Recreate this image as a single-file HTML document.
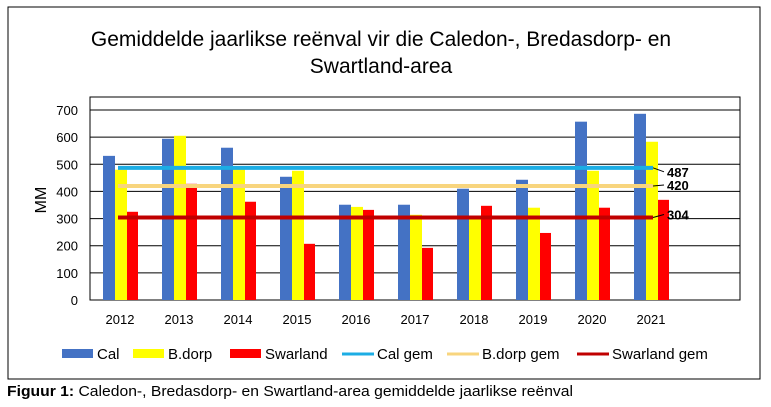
<!DOCTYPE html>
<html><head><meta charset="utf-8"><style>
body{margin:0;background:#fff;}
svg{display:block;font-family:"Liberation Sans",Calibri,sans-serif;}
</style></head><body>
<svg id="c" width="771" height="407" xmlns="http://www.w3.org/2000/svg">
<rect x="8" y="7" width="752" height="372" fill="#fff" stroke="#000" stroke-width="1"/>
<text x="381" y="46" font-size="21" text-anchor="middle">Gemiddelde jaarlikse reënval vir die Caledon-, Bredasdorp- en</text>
<text x="381" y="73" font-size="21" text-anchor="middle">Swartland-area</text>
<text transform="translate(46,200) rotate(-90)" font-size="16" text-anchor="middle">MM</text>
<g id="grid"></g><g id="bars"></g><g id="avg"></g>
<g id="legend"></g>
<text x="7" y="396" font-size="15" textLength="566" lengthAdjust="spacingAndGlyphs"><tspan font-weight="bold">Figuur 1:</tspan> Caledon-, Bredasdorp- en Swartland-area gemiddelde jaarlikse reënval</text>
</svg>
<script>
const years=["2012","2013","2014","2015","2016","2017","2018","2019","2020","2021"];
const cal=[531,594,561,454,351,351,410,443,657,686];
const bdorp=[480,605,490,476,343,314,300,340,476,583];
const swarland=[325,428,362,207,332,192,347,247,340,369];
const averages=[487,420,304];
const yTicks=[0,100,200,300,400,500,600,700];
const NS="http://www.w3.org/2000/svg";
const L=90,R=740,T=97,B=300;
const y=v=>B-v*(B-110)/700;
const xc=i=>120+59*i;
function mk(t,a,p){const e=document.createElementNS(NS,t);for(const k in a)e.setAttribute(k,a[k]);p.appendChild(e);return e;}
const g=document.getElementById('grid');
yTicks.forEach(v=>{
 const l=mk('line',{x1:L,x2:R,y1:y(v),y2:y(v),stroke:'#000','stroke-width':1},g);
 
 
 const t=mk('text',{x:78,y:y(v)+5,'font-size':13,'text-anchor':'end'},g);t.textContent=v;
 
 
});
const box=mk('rect',{x:L,y:T,width:R-L,height:B-T,fill:'none',stroke:'#000','stroke-width':1},g);


const bg=document.getElementById('bars');
const series=[[cal,'#4472C4','cal'],[bdorp,'#FFFF00','bdorp'],[swarland,'#FF0000','swarland']];
years.forEach((yr,i)=>{
 series.forEach((s,j)=>{
  const v=s[0][i];const w=j==2?11:12;const x=xc(i)-17+j*12;
  const r=mk('rect',{x:x,y:y(v),width:w,height:B-y(v),fill:s[1]},bg);
  
  
 });
 const t=mk('text',{x:xc(i),y:324,'font-size':13,'text-anchor':'middle'},bg);t.textContent=yr;
 
 
});
const ag=document.getElementById('avg');
const avgCols=['#1CADE4','#F8D57E','#C00000'];const avgNames=['cal-gem','bdorp-gem','swarland-gem'];
averages.forEach((v,k)=>{
 const l=mk('line',{x1:118,x2:653,y1:y(v),y2:y(v),stroke:avgCols[k],'stroke-width':4},ag);
 
 
 mk('line',{x1:653,x2:664,y1:y(v),y2:y(v)+(k==0?4:k==1?-1:-3),stroke:'#000','stroke-width':1},ag);
 const t=mk('text',{x:667,y:y(v)+(k==0?9:k==1?4:2),'font-size':13,'font-weight':'bold'},ag);t.textContent=v;
 
 
});
const lg=document.getElementById('legend');
const items=[['Cal','#4472C4',62,'bar'],['B.dorp','#FFFF00',133,'bar'],['Swarland','#FF0000',230,'bar'],['Cal gem','#1CADE4',342,'line'],['B.dorp gem','#F8D57E',447,'line'],['Swarland gem','#C00000',577,'line']];
items.forEach(it=>{
 const e=mk('g',{},lg);
 
 
 if(it[3]=='bar')mk('rect',{x:it[2],y:349,width:31,height:9,fill:it[1]},e);
 else mk('line',{x1:it[2],x2:it[2]+32,y1:354,y2:354,stroke:it[1],'stroke-width':3},e);
 const t=mk('text',{x:it[2]+35,y:359,'font-size':15},e);t.textContent=it[0];
});
</script>
</body></html>
